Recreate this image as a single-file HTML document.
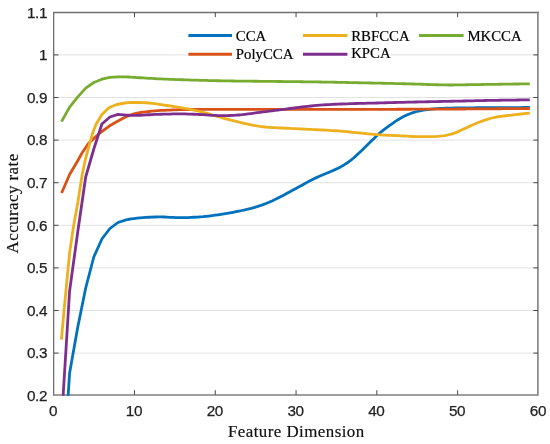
<!DOCTYPE html>
<html><head><meta charset="utf-8"><title>Accuracy rate vs Feature Dimension</title>
<style>html,body{margin:0;padding:0;background:#fff}svg{display:block}.t{font-family:"Liberation Sans",Arial,sans-serif;font-size:15.3px;fill:#222;stroke:#222;stroke-width:0.25px}.l{font-family:"Liberation Serif","Times New Roman",serif;font-size:14.8px;fill:#000;stroke:#000;stroke-width:0.2px}.a{font-family:"Liberation Serif","Times New Roman",serif;font-size:16.9px;letter-spacing:0.45px;fill:#111;stroke:#111;stroke-width:0.2px}</style></head><body>
<svg width="550" height="444" viewBox="0 0 550 444">
<rect width="550" height="444" fill="#fff"/>
<clipPath id="c"><rect x="53" y="11.8" width="485.7" height="383.95"/></clipPath>
<path d="M53.8 353.10H538.0" stroke="#e2e2e2" stroke-width="1" fill="none"/>
<path d="M53.8 310.50H538.0" stroke="#e2e2e2" stroke-width="1" fill="none"/>
<path d="M53.8 267.90H538.0" stroke="#e2e2e2" stroke-width="1" fill="none"/>
<path d="M53.8 225.30H538.0" stroke="#e2e2e2" stroke-width="1" fill="none"/>
<path d="M53.8 182.70H538.0" stroke="#e2e2e2" stroke-width="1" fill="none"/>
<path d="M53.8 140.10H538.0" stroke="#e2e2e2" stroke-width="1" fill="none"/>
<path d="M53.8 97.50H538.0" stroke="#e2e2e2" stroke-width="1" fill="none"/>
<path d="M53.7 54.90H188M390.5 54.90H538.0" stroke="#e2e2e2" stroke-width="1" fill="none"/>
<path d="M53.65 11.85V395.75M53 12.5H538.7" stroke="#707070" stroke-width="1.3" fill="none"/>
<path d="M537.9 11.85V395.75M53 394.95H538.7" stroke="#808080" stroke-width="1.6" fill="none"/>
<g clip-path="url(#c)" fill="none" stroke-linejoin="round" stroke-linecap="butt">
<polyline points="61.5,501.00 69.6,373.00 77.6,328.00 85.7,288.00 93.8,257.00 101.9,239.00 109.9,228.50 118.0,222.50 126.1,219.90 128.0,219.50 131.0,218.96 134.0,218.53 137.0,218.15 140.0,217.82 143.0,217.56 146.0,217.39 149.0,217.23 152.0,217.09 155.0,216.98 158.0,216.91 161.0,216.91 164.0,216.98 167.0,217.13 170.0,217.30 173.0,217.47 176.0,217.62 179.0,217.69 182.0,217.69 185.0,217.63 188.0,217.53 191.0,217.40 194.0,217.25 197.0,217.08 200.0,216.90 203.0,216.68 206.0,216.39 209.0,216.04 212.0,215.64 215.0,215.22 218.0,214.79 221.0,214.35 224.0,213.89 227.0,213.38 230.0,212.84 233.0,212.28 236.0,211.69 239.0,211.10 242.0,210.50 245.0,209.87 248.0,209.19 251.0,208.44 254.0,207.60 257.0,206.69 260.0,205.70 263.0,204.63 266.0,203.47 269.0,202.23 272.0,200.91 275.0,199.49 278.0,198.01 281.0,196.49 284.0,194.92 287.0,193.31 290.0,191.70 293.0,190.09 296.0,188.47 299.0,186.84 302.0,185.19 305.0,183.51 308.0,181.85 311.0,180.29 314.0,178.80 317.0,177.37 320.0,176.00 323.0,174.71 326.0,173.48 329.0,172.23 332.0,170.93 335.0,169.62 338.0,168.22 341.0,166.66 344.0,164.92 347.0,163.01 350.0,160.90 353.0,158.50 356.0,155.83 359.0,153.03 362.0,150.20 365.0,147.25 368.0,144.26 371.0,141.33 374.0,138.38 377.0,135.49 380.0,132.80 383.0,130.37 386.0,128.09 389.0,125.91 392.0,123.77 395.0,121.66 398.0,119.68 401.0,117.95 404.0,116.35 407.0,114.92 410.0,113.70 413.0,112.67 416.0,111.76 419.0,111.01 422.0,110.42 425.0,109.93 428.0,109.53 431.0,109.20 434.0,108.91 437.0,108.67 440.0,108.50 443.0,108.37 446.0,108.25 449.0,108.15 452.0,108.06 455.0,107.98 458.0,107.93 461.0,107.89 464.0,107.86 467.0,107.83 470.0,107.81 473.0,107.79 476.0,107.77 479.0,107.76 482.0,107.74 485.0,107.73 488.0,107.71 491.0,107.69 494.0,107.68 497.0,107.66 500.0,107.64 503.0,107.63 506.0,107.61 509.0,107.60 512.0,107.58 515.0,107.57 518.0,107.55 521.0,107.54 524.0,107.52 527.0,107.51 529.8,107.50" stroke="#0072BD" stroke-width="2.8"/>
<polyline points="61.6,193.00 69.6,174.50 77.6,161.00 82.0,153.00 88.4,143.50 96.1,136.40 101.2,132.00 108.9,126.30 116.6,121.80 125.0,117.20 128.0,115.85 131.0,114.77 134.0,113.86 137.0,113.08 140.0,112.50 143.0,112.10 146.0,111.78 149.0,111.50 152.0,111.20 155.0,110.89 158.0,110.63 161.0,110.45 164.0,110.30 167.0,110.16 170.0,110.03 173.0,109.91 176.0,109.81 179.0,109.72 182.0,109.64 185.0,109.58 188.0,109.53 191.0,109.49 194.0,109.46 197.0,109.43 200.0,109.40 203.0,109.37 206.0,109.35 209.0,109.33 212.0,109.32 215.0,109.31 218.0,109.30 221.0,109.30 224.0,109.30 227.0,109.30 230.0,109.30 233.0,109.30 236.0,109.30 239.0,109.30 242.0,109.30 245.0,109.30 248.0,109.30 251.0,109.30 254.0,109.30 257.0,109.30 260.0,109.30 263.0,109.30 266.0,109.30 269.0,109.30 272.0,109.30 275.0,109.30 278.0,109.30 281.0,109.30 284.0,109.30 287.0,109.30 290.0,109.30 293.0,109.30 296.0,109.30 299.0,109.30 302.0,109.30 305.0,109.30 308.0,109.30 311.0,109.30 314.0,109.30 317.0,109.30 320.0,109.30 323.0,109.30 326.0,109.30 329.0,109.30 332.0,109.30 335.0,109.30 338.0,109.30 341.0,109.30 344.0,109.30 347.0,109.30 350.0,109.30 353.0,109.30 356.0,109.30 359.0,109.30 362.0,109.30 365.0,109.30 368.0,109.30 371.0,109.30 374.0,109.30 377.0,109.30 380.0,109.30 383.0,109.30 386.0,109.30 389.0,109.29 392.0,109.29 395.0,109.28 398.0,109.27 401.0,109.26 404.0,109.25 407.0,109.24 410.0,109.23 413.0,109.22 416.0,109.21 419.0,109.19 422.0,109.18 425.0,109.17 428.0,109.15 431.0,109.14 434.0,109.13 437.0,109.11 440.0,109.10 443.0,109.09 446.0,109.07 449.0,109.06 452.0,109.04 455.0,109.03 458.0,109.01 461.0,109.00 464.0,108.98 467.0,108.96 470.0,108.94 473.0,108.93 476.0,108.91 479.0,108.89 482.0,108.87 485.0,108.85 488.0,108.83 491.0,108.81 494.0,108.79 497.0,108.76 500.0,108.74 503.0,108.72 506.0,108.70 509.0,108.67 512.0,108.65 515.0,108.62 518.0,108.60 521.0,108.57 524.0,108.55 527.0,108.52 529.8,108.50" stroke="#D95319" stroke-width="2.8"/>
<polyline points="61.4,339.60 64.0,311.00 66.5,285.00 69.6,253.00 73.4,227.00 77.9,202.00 82.1,175.00 85.7,158.00 87.1,153.00 92.2,134.50 93.8,130.00 96.1,124.20 101.9,114.50 108.9,107.70 116.6,104.50 125.0,103.00 128.0,102.70 131.0,102.51 134.0,102.50 137.0,102.50 140.0,102.50 143.0,102.58 146.0,102.77 149.0,103.02 152.0,103.31 155.0,103.72 158.0,104.20 161.0,104.64 164.0,105.07 167.0,105.50 170.0,105.93 173.0,106.38 176.0,106.84 179.0,107.33 182.0,107.85 185.0,108.39 188.0,108.95 191.0,109.54 194.0,110.16 197.0,110.81 200.0,111.50 203.0,112.25 206.0,113.08 209.0,113.96 212.0,114.86 215.0,115.76 218.0,116.64 221.0,117.47 224.0,118.29 227.0,119.11 230.0,119.91 233.0,120.70 236.0,121.45 239.0,122.17 242.0,122.86 245.0,123.54 248.0,124.21 251.0,124.85 254.0,125.44 257.0,125.96 260.0,126.40 263.0,126.76 266.0,127.07 269.0,127.33 272.0,127.53 275.0,127.70 278.0,127.86 281.0,127.99 284.0,128.12 287.0,128.26 290.0,128.40 293.0,128.55 296.0,128.70 299.0,128.85 302.0,129.00 305.0,129.15 308.0,129.30 311.0,129.45 314.0,129.59 317.0,129.73 320.0,129.87 323.0,130.02 326.0,130.17 329.0,130.34 332.0,130.53 335.0,130.74 338.0,130.97 341.0,131.21 344.0,131.47 347.0,131.73 350.0,132.00 353.0,132.28 356.0,132.57 359.0,132.88 362.0,133.20 365.0,133.51 368.0,133.81 371.0,134.10 374.0,134.39 377.0,134.67 380.0,134.90 383.0,135.07 386.0,135.22 389.0,135.35 392.0,135.47 395.0,135.59 398.0,135.71 401.0,135.85 404.0,136.01 407.0,136.19 410.0,136.36 413.0,136.52 416.0,136.64 419.0,136.70 422.0,136.70 425.0,136.69 428.0,136.67 431.0,136.64 434.0,136.60 437.0,136.46 440.0,136.20 443.0,135.83 446.0,135.30 449.0,134.68 452.0,133.88 455.0,132.90 458.0,131.63 461.0,130.25 464.0,128.86 467.0,127.46 470.0,126.10 473.0,124.78 476.0,123.50 479.0,122.28 482.0,121.15 485.0,120.05 488.0,119.06 491.0,118.25 494.0,117.58 497.0,116.99 500.0,116.50 503.0,116.10 506.0,115.75 509.0,115.42 512.0,115.06 515.0,114.69 518.0,114.33 521.0,113.99 524.0,113.67 527.0,113.37 529.8,113.10" stroke="#EDB120" stroke-width="2.8"/>
<polyline points="61.5,422.00 69.6,291.00 77.6,233.00 85.7,177.00 93.8,149.00 101.9,124.00 109.9,117.00 118.0,114.40 126.1,115.20 128.0,115.27 131.0,115.36 134.0,115.40 137.0,115.36 140.0,115.27 143.0,115.16 146.0,114.96 149.0,114.76 152.0,114.60 155.0,114.47 158.0,114.36 161.0,114.27 164.0,114.19 167.0,114.11 170.0,114.03 173.0,113.97 176.0,113.92 179.0,113.90 182.0,113.91 185.0,113.95 188.0,114.03 191.0,114.13 194.0,114.24 197.0,114.37 200.0,114.50 203.0,114.68 206.0,114.92 209.0,115.14 212.0,115.31 215.0,115.46 218.0,115.57 221.0,115.60 224.0,115.58 227.0,115.55 230.0,115.50 233.0,115.40 236.0,115.21 239.0,114.98 242.0,114.71 245.0,114.36 248.0,113.96 251.0,113.57 254.0,113.15 257.0,112.71 260.0,112.30 263.0,111.93 266.0,111.58 269.0,111.22 272.0,110.85 275.0,110.46 278.0,110.06 281.0,109.67 284.0,109.28 287.0,108.88 290.0,108.50 293.0,108.12 296.0,107.73 299.0,107.35 302.0,106.98 305.0,106.63 308.0,106.30 311.0,106.00 314.0,105.72 317.0,105.45 320.0,105.19 323.0,104.96 326.0,104.74 329.0,104.56 332.0,104.40 335.0,104.26 338.0,104.13 341.0,104.01 344.0,103.90 347.0,103.80 350.0,103.70 353.0,103.61 356.0,103.52 359.0,103.43 362.0,103.35 365.0,103.28 368.0,103.20 371.0,103.13 374.0,103.05 377.0,102.98 380.0,102.90 383.0,102.82 386.0,102.74 389.0,102.67 392.0,102.59 395.0,102.51 398.0,102.43 401.0,102.36 404.0,102.28 407.0,102.21 410.0,102.13 413.0,102.06 416.0,101.99 419.0,101.92 422.0,101.86 425.0,101.79 428.0,101.73 431.0,101.67 434.0,101.61 437.0,101.55 440.0,101.50 443.0,101.44 446.0,101.38 449.0,101.32 452.0,101.27 455.0,101.20 458.0,101.14 461.0,101.08 464.0,101.01 467.0,100.94 470.0,100.86 473.0,100.78 476.0,100.71 479.0,100.63 482.0,100.56 485.0,100.49 488.0,100.44 491.0,100.38 494.0,100.33 497.0,100.29 500.0,100.24 503.0,100.20 506.0,100.15 509.0,100.11 512.0,100.07 515.0,100.04 518.0,100.00 521.0,99.97 524.0,99.94 527.0,99.92 529.8,99.90" stroke="#7E2F8E" stroke-width="2.8"/>
<polyline points="61.5,121.60 69.6,107.10 77.6,97.10 85.7,88.10 93.8,82.50 101.9,79.20 109.9,77.40 118.0,76.80 126.0,76.90 128.0,76.98 131.0,77.18 134.0,77.40 137.0,77.58 140.0,77.76 143.0,77.94 146.0,78.12 149.0,78.30 152.0,78.47 155.0,78.64 158.0,78.80 161.0,78.95 164.0,79.08 167.0,79.20 170.0,79.32 173.0,79.43 176.0,79.54 179.0,79.64 182.0,79.75 185.0,79.84 188.0,79.94 191.0,80.03 194.0,80.12 197.0,80.21 200.0,80.30 203.0,80.39 206.0,80.47 209.0,80.55 212.0,80.63 215.0,80.70 218.0,80.76 221.0,80.82 224.0,80.87 227.0,80.91 230.0,80.96 233.0,81.00 236.0,81.04 239.0,81.07 242.0,81.11 245.0,81.14 248.0,81.18 251.0,81.21 254.0,81.24 257.0,81.27 260.0,81.30 263.0,81.33 266.0,81.36 269.0,81.39 272.0,81.42 275.0,81.45 278.0,81.49 281.0,81.52 284.0,81.55 287.0,81.58 290.0,81.62 293.0,81.65 296.0,81.69 299.0,81.72 302.0,81.76 305.0,81.79 308.0,81.83 311.0,81.87 314.0,81.91 317.0,81.96 320.0,82.00 323.0,82.05 326.0,82.09 329.0,82.14 332.0,82.20 335.0,82.25 338.0,82.31 341.0,82.36 344.0,82.42 347.0,82.48 350.0,82.54 353.0,82.61 356.0,82.67 359.0,82.73 362.0,82.80 365.0,82.87 368.0,82.93 371.0,83.00 374.0,83.07 377.0,83.13 380.0,83.20 383.0,83.27 386.0,83.34 389.0,83.40 392.0,83.47 395.0,83.54 398.0,83.62 401.0,83.69 404.0,83.77 407.0,83.84 410.0,83.92 413.0,84.00 416.0,84.09 419.0,84.17 422.0,84.26 425.0,84.37 428.0,84.48 431.0,84.58 434.0,84.67 437.0,84.75 440.0,84.83 443.0,84.91 446.0,84.97 449.0,85.00 452.0,84.99 455.0,84.97 458.0,84.93 461.0,84.89 464.0,84.83 467.0,84.76 470.0,84.70 473.0,84.65 476.0,84.60 479.0,84.56 482.0,84.52 485.0,84.47 488.0,84.43 491.0,84.38 494.0,84.34 497.0,84.29 500.0,84.25 503.0,84.20 506.0,84.16 509.0,84.11 512.0,84.07 515.0,84.02 518.0,83.98 521.0,83.93 524.0,83.89 527.0,83.84 529.8,83.80" stroke="#77AC30" stroke-width="2.8"/>
</g>
<path d="M134.48 394.9v-4.7M134.48 12.5v4.7M215.27 394.9v-4.7M215.27 12.5v4.7M296.05 394.9v-4.7M296.05 12.5v4.7M376.83 394.9v-4.7M376.83 12.5v4.7M457.62 394.9v-4.7M457.62 12.5v4.7M53.8 353.10h4.7M538.0 353.10h-4.7M53.8 310.50h4.7M538.0 310.50h-4.7M53.8 267.90h4.7M538.0 267.90h-4.7M53.8 225.30h4.7M538.0 225.30h-4.7M53.8 182.70h4.7M538.0 182.70h-4.7M53.8 140.10h4.7M538.0 140.10h-4.7M53.8 97.50h4.7M538.0 97.50h-4.7M53.8 54.90h4.7M538.0 54.90h-4.7" stroke="#484848" stroke-width="1" fill="none"/>
<text class="t" x="53.2" y="415.7" text-anchor="middle" letter-spacing="-0.35">0</text>
<text class="t" x="134.0" y="415.7" text-anchor="middle" letter-spacing="-0.35">10</text>
<text class="t" x="214.8" y="415.7" text-anchor="middle" letter-spacing="-0.35">20</text>
<text class="t" x="295.6" y="415.7" text-anchor="middle" letter-spacing="-0.35">30</text>
<text class="t" x="376.3" y="415.7" text-anchor="middle" letter-spacing="-0.35">40</text>
<text class="t" x="457.1" y="415.7" text-anchor="middle" letter-spacing="-0.35">50</text>
<text class="t" x="537.9" y="415.7" text-anchor="middle" letter-spacing="-0.35">60</text>
<text class="t" x="47.1" y="400.9" text-anchor="end" letter-spacing="-0.35">0.2</text>
<text class="t" x="47.1" y="358.3" text-anchor="end" letter-spacing="-0.35">0.3</text>
<text class="t" x="47.1" y="315.7" text-anchor="end" letter-spacing="-0.35">0.4</text>
<text class="t" x="47.1" y="273.1" text-anchor="end" letter-spacing="-0.35">0.5</text>
<text class="t" x="47.1" y="230.5" text-anchor="end" letter-spacing="-0.35">0.6</text>
<text class="t" x="47.1" y="187.9" text-anchor="end" letter-spacing="-0.35">0.7</text>
<text class="t" x="47.1" y="145.3" text-anchor="end" letter-spacing="-0.35">0.8</text>
<text class="t" x="47.1" y="102.7" text-anchor="end" letter-spacing="-0.35">0.9</text>
<text class="t" x="47.1" y="60.1" text-anchor="end" letter-spacing="-0.35">1</text>
<text class="t" x="47.1" y="17.5" text-anchor="end" letter-spacing="-0.35">1.1</text>
<text class="a" x="296.3" y="437.2" text-anchor="middle">Feature Dimension</text>
<text class="a" transform="translate(18.4 203.4) rotate(-90)" text-anchor="middle">Accuracy rate</text>
<path d="M188.4 35.400000000000006H232" stroke="#0072BD" stroke-width="3" fill="none"/>
<text class="l" x="235.8" y="40.7">CCA</text>
<path d="M188.4 54.2H232" stroke="#D95319" stroke-width="3" fill="none"/>
<text class="l" x="235.8" y="58.5">PolyCCA</text>
<path d="M303 35.400000000000006H347.4" stroke="#EDB120" stroke-width="3" fill="none"/>
<text class="l" x="351.2" y="40.7">RBFCCA</text>
<path d="M303 54.2H347.4" stroke="#7E2F8E" stroke-width="3" fill="none"/>
<text class="l" x="351.2" y="58.3">KPCA</text>
<path d="M419 35.400000000000006H463.6" stroke="#77AC30" stroke-width="3" fill="none"/>
<text class="l" x="467.4" y="40.7">MKCCA</text>
</svg></body></html>
